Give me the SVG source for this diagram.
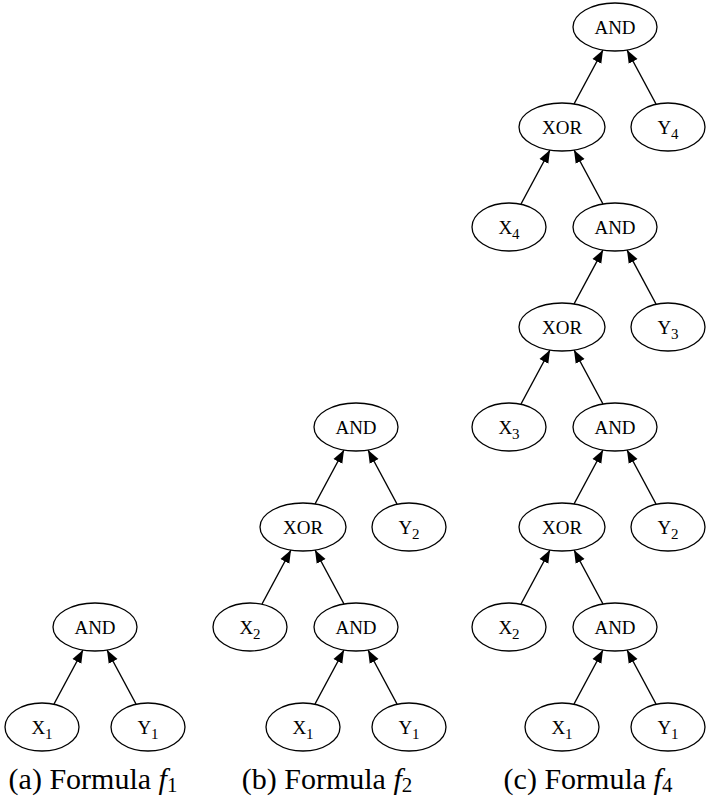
<svg xmlns="http://www.w3.org/2000/svg" width="707" height="798" viewBox="0 0 707 798">
<style>
ellipse{fill:#fff;stroke:#000;stroke-width:1.3}
text{font-family:"Liberation Serif","Times New Roman",serif;fill:#000}
.n{font-size:19px;text-anchor:middle}
.s{font-size:15px}
.cap{font-size:30px;text-anchor:middle}
.e{stroke:#000;stroke-width:1.4;fill:none;marker-end:url(#a)}
</style>
<defs><marker id="a" markerWidth="14" markerHeight="12" refX="13" refY="6" orient="auto" markerUnits="userSpaceOnUse"><path d="M0,1L13,6L0,11z" fill="#000"/></marker></defs>
<g id="connectors">
<line class="e" x1="54" y1="704" x2="83" y2="650"/>
<line class="e" x1="136" y1="704" x2="107" y2="650"/>
<line class="e" x1="315" y1="504" x2="344" y2="450"/>
<line class="e" x1="397" y1="504" x2="368" y2="450"/>
<line class="e" x1="262" y1="604" x2="291" y2="550"/>
<line class="e" x1="344" y1="604" x2="315" y2="550"/>
<line class="e" x1="315" y1="704" x2="344" y2="650"/>
<line class="e" x1="397" y1="704" x2="368" y2="650"/>
<line class="e" x1="574" y1="104" x2="603" y2="50"/>
<line class="e" x1="656" y1="104" x2="627" y2="50"/>
<line class="e" x1="521" y1="204" x2="550" y2="150"/>
<line class="e" x1="603" y1="204" x2="574" y2="150"/>
<line class="e" x1="574" y1="304" x2="603" y2="250"/>
<line class="e" x1="656" y1="304" x2="627" y2="250"/>
<line class="e" x1="521" y1="404" x2="550" y2="350"/>
<line class="e" x1="603" y1="404" x2="574" y2="350"/>
<line class="e" x1="574" y1="504" x2="603" y2="450"/>
<line class="e" x1="656" y1="504" x2="627" y2="450"/>
<line class="e" x1="521" y1="604" x2="550" y2="550"/>
<line class="e" x1="603" y1="604" x2="574" y2="550"/>
<line class="e" x1="574" y1="704" x2="603" y2="650"/>
<line class="e" x1="656" y1="704" x2="627" y2="650"/>
</g>
<g id="a_and"><ellipse cx="95" cy="627" rx="42" ry="24"/><text class="n" x="95" y="634">AND</text></g>
<g id="a_x1"><ellipse cx="42" cy="727" rx="37" ry="24"/><text class="n" x="42" y="734">X<tspan class="s" dy="5">1</tspan></text></g>
<g id="a_y1"><ellipse cx="148" cy="727" rx="37" ry="24"/><text class="n" x="148" y="734">Y<tspan class="s" dy="5">1</tspan></text></g>

<g id="b_and2"><ellipse cx="356" cy="427" rx="42" ry="24"/><text class="n" x="356" y="434">AND</text></g>
<g id="b_xor"><ellipse cx="303" cy="527" rx="43" ry="24"/><text class="n" x="303" y="534">XOR</text></g>
<g id="b_y2"><ellipse cx="409" cy="527" rx="37" ry="24"/><text class="n" x="409" y="534">Y<tspan class="s" dy="5">2</tspan></text></g>
<g id="b_x2"><ellipse cx="250" cy="627" rx="37" ry="24"/><text class="n" x="250" y="634">X<tspan class="s" dy="5">2</tspan></text></g>
<g id="b_and1"><ellipse cx="356" cy="627" rx="42" ry="24"/><text class="n" x="356" y="634">AND</text></g>
<g id="b_x1"><ellipse cx="303" cy="727" rx="37" ry="24"/><text class="n" x="303" y="734">X<tspan class="s" dy="5">1</tspan></text></g>
<g id="b_y1"><ellipse cx="409" cy="727" rx="37" ry="24"/><text class="n" x="409" y="734">Y<tspan class="s" dy="5">1</tspan></text></g>

<g id="c_and4"><ellipse cx="615" cy="27" rx="42" ry="24"/><text class="n" x="615" y="34">AND</text></g>
<g id="c_xor4"><ellipse cx="562" cy="127" rx="43" ry="24"/><text class="n" x="562" y="134">XOR</text></g>
<g id="c_y4"><ellipse cx="668" cy="127" rx="37" ry="24"/><text class="n" x="668" y="134">Y<tspan class="s" dy="5">4</tspan></text></g>
<g id="c_x4"><ellipse cx="509" cy="227" rx="37" ry="24"/><text class="n" x="509" y="234">X<tspan class="s" dy="5">4</tspan></text></g>
<g id="c_and3"><ellipse cx="615" cy="227" rx="42" ry="24"/><text class="n" x="615" y="234">AND</text></g>
<g id="c_xor3"><ellipse cx="562" cy="327" rx="43" ry="24"/><text class="n" x="562" y="334">XOR</text></g>
<g id="c_y3"><ellipse cx="668" cy="327" rx="37" ry="24"/><text class="n" x="668" y="334">Y<tspan class="s" dy="5">3</tspan></text></g>
<g id="c_x3"><ellipse cx="509" cy="427" rx="37" ry="24"/><text class="n" x="509" y="434">X<tspan class="s" dy="5">3</tspan></text></g>
<g id="c_and2"><ellipse cx="615" cy="427" rx="42" ry="24"/><text class="n" x="615" y="434">AND</text></g>
<g id="c_xor2"><ellipse cx="562" cy="527" rx="43" ry="24"/><text class="n" x="562" y="534">XOR</text></g>
<g id="c_y2"><ellipse cx="668" cy="527" rx="37" ry="24"/><text class="n" x="668" y="534">Y<tspan class="s" dy="5">2</tspan></text></g>
<g id="c_x2"><ellipse cx="509" cy="627" rx="37" ry="24"/><text class="n" x="509" y="634">X<tspan class="s" dy="5">2</tspan></text></g>
<g id="c_and1"><ellipse cx="615" cy="627" rx="42" ry="24"/><text class="n" x="615" y="634">AND</text></g>
<g id="c_x1"><ellipse cx="562" cy="727" rx="37" ry="24"/><text class="n" x="562" y="734">X<tspan class="s" dy="5">1</tspan></text></g>
<g id="c_y1"><ellipse cx="668" cy="727" rx="37" ry="24"/><text class="n" x="668" y="734">Y<tspan class="s" dy="5">1</tspan></text></g>

<g id="captions">
<text class="cap" x="93" y="789">(a) Formula <tspan font-style="italic">f</tspan><tspan font-size="21" dy="3">1</tspan></text>
<text class="cap" x="327" y="789">(b) Formula <tspan font-style="italic">f</tspan><tspan font-size="21" dy="3">2</tspan></text>
<text class="cap" x="588" y="789">(c) Formula <tspan font-style="italic">f</tspan><tspan font-size="21" dy="3">4</tspan></text>
</g>
</svg>
